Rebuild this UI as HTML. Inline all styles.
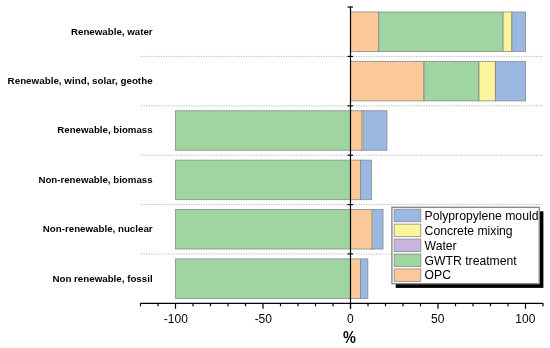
<!DOCTYPE html>
<html><head><meta charset="utf-8"><title>chart</title>
<style>
html,body{margin:0;padding:0;background:#fff;}
svg{display:block;font-family:"Liberation Sans",Arial,sans-serif;}
.cat{font-weight:bold;font-size:9.75px;fill:#000;}
.tk{font-size:12px;fill:#000;}
.lg{font-size:12.2px;fill:#000;}
</style></head><body>
<svg width="550" height="348" viewBox="0 0 550 348">
<rect width="550" height="348" fill="#fff"/>
<line x1="141" y1="56.43" x2="542.5" y2="56.43" stroke="#999" stroke-width="0.7" stroke-dasharray="1.2 1.3"/>
<line x1="141" y1="105.82" x2="542.5" y2="105.82" stroke="#999" stroke-width="0.7" stroke-dasharray="1.2 1.3"/>
<line x1="141" y1="155.20" x2="542.5" y2="155.20" stroke="#999" stroke-width="0.7" stroke-dasharray="1.2 1.3"/>
<line x1="141" y1="204.58" x2="542.5" y2="204.58" stroke="#999" stroke-width="0.7" stroke-dasharray="1.2 1.3"/>
<line x1="141" y1="253.97" x2="542.5" y2="253.97" stroke="#999" stroke-width="0.7" stroke-dasharray="1.2 1.3"/>
<rect x="350.50" y="11.99" width="28.18" height="39.51" fill="#fbc99a" stroke="#858585" stroke-opacity="0.85" stroke-width="0.9"/>
<rect x="378.68" y="11.99" width="124.43" height="39.51" fill="#a0d4a0" stroke="#858585" stroke-opacity="0.85" stroke-width="0.9"/>
<rect x="503.10" y="11.99" width="8.75" height="39.51" fill="#faf59c" stroke="#858585" stroke-opacity="0.85" stroke-width="0.9"/>
<rect x="511.85" y="11.99" width="13.65" height="39.51" fill="#9bb8e3" stroke="#858585" stroke-opacity="0.85" stroke-width="0.9"/>
<rect x="350.50" y="61.37" width="73.50" height="39.51" fill="#fbc99a" stroke="#858585" stroke-opacity="0.85" stroke-width="0.9"/>
<rect x="424.00" y="61.37" width="54.95" height="39.51" fill="#a0d4a0" stroke="#858585" stroke-opacity="0.85" stroke-width="0.9"/>
<rect x="478.95" y="61.37" width="16.45" height="39.51" fill="#faf59c" stroke="#858585" stroke-opacity="0.85" stroke-width="0.9"/>
<rect x="495.40" y="61.37" width="30.10" height="39.51" fill="#9bb8e3" stroke="#858585" stroke-opacity="0.85" stroke-width="0.9"/>
<rect x="175.50" y="110.75" width="175.00" height="39.51" fill="#a0d4a0" stroke="#858585" stroke-opacity="0.85" stroke-width="0.9"/>
<rect x="350.50" y="110.75" width="11.29" height="39.51" fill="#fbc99a" stroke="#858585" stroke-opacity="0.85" stroke-width="0.9"/>
<rect x="363.19" y="110.75" width="23.71" height="39.51" fill="#9bb8e3" stroke="#858585" stroke-opacity="0.85" stroke-width="0.9"/>
<rect x="361.49" y="110.75" width="2.00" height="39.51" fill="#b5b68c"/>
<line x1="360.89" y1="110.75" x2="364.09" y2="110.75" stroke="#858585" stroke-opacity="0.85" stroke-width="0.9"/>
<line x1="360.89" y1="150.26" x2="364.09" y2="150.26" stroke="#858585" stroke-opacity="0.85" stroke-width="0.9"/>
<rect x="175.50" y="160.14" width="175.00" height="39.51" fill="#a0d4a0" stroke="#858585" stroke-opacity="0.85" stroke-width="0.9"/>
<rect x="350.50" y="160.14" width="9.98" height="39.51" fill="#fbc99a" stroke="#858585" stroke-opacity="0.85" stroke-width="0.9"/>
<rect x="360.48" y="160.14" width="11.02" height="39.51" fill="#9bb8e3" stroke="#858585" stroke-opacity="0.85" stroke-width="0.9"/>
<rect x="175.50" y="209.52" width="175.00" height="39.51" fill="#a0d4a0" stroke="#858585" stroke-opacity="0.85" stroke-width="0.9"/>
<rect x="350.50" y="209.52" width="21.00" height="39.51" fill="#fbc99a" stroke="#858585" stroke-opacity="0.85" stroke-width="0.9"/>
<rect x="372.55" y="209.52" width="10.50" height="39.51" fill="#9bb8e3" stroke="#858585" stroke-opacity="0.85" stroke-width="0.9"/>
<rect x="371.20" y="209.52" width="1.65" height="39.51" fill="#b5b68c"/>
<line x1="370.60" y1="209.52" x2="373.45" y2="209.52" stroke="#858585" stroke-opacity="0.85" stroke-width="0.9"/>
<line x1="370.60" y1="249.03" x2="373.45" y2="249.03" stroke="#858585" stroke-opacity="0.85" stroke-width="0.9"/>
<rect x="175.50" y="258.91" width="175.00" height="39.51" fill="#a0d4a0" stroke="#858585" stroke-opacity="0.85" stroke-width="0.9"/>
<rect x="350.50" y="258.91" width="9.98" height="39.51" fill="#fbc99a" stroke="#858585" stroke-opacity="0.85" stroke-width="0.9"/>
<rect x="360.48" y="258.91" width="7.35" height="39.51" fill="#9bb8e3" stroke="#858585" stroke-opacity="0.85" stroke-width="0.9"/>
<line x1="350.5" y1="6.50" x2="350.5" y2="308.85" stroke="#000" stroke-width="1.2"/>
<line x1="140.3" y1="303.35" x2="543.1" y2="303.35" stroke="#000" stroke-width="1.3"/>
<line x1="347.5" y1="7.05" x2="353.0" y2="7.05" stroke="#000" stroke-width="1.15"/>
<line x1="347.5" y1="56.43" x2="353.0" y2="56.43" stroke="#000" stroke-width="1.15"/>
<line x1="347.5" y1="105.82" x2="353.0" y2="105.82" stroke="#000" stroke-width="1.15"/>
<line x1="347.5" y1="155.20" x2="353.0" y2="155.20" stroke="#000" stroke-width="1.15"/>
<line x1="347.5" y1="204.58" x2="353.0" y2="204.58" stroke="#000" stroke-width="1.15"/>
<line x1="347.5" y1="253.97" x2="353.0" y2="253.97" stroke="#000" stroke-width="1.15"/>
<line x1="140.50" y1="303.35" x2="140.50" y2="306.25" stroke="#000" stroke-width="1.2"/>
<line x1="158.00" y1="303.35" x2="158.00" y2="306.25" stroke="#000" stroke-width="1.2"/>
<line x1="175.50" y1="303.35" x2="175.50" y2="308.75" stroke="#000" stroke-width="1.2"/>
<line x1="193.00" y1="303.35" x2="193.00" y2="306.25" stroke="#000" stroke-width="1.2"/>
<line x1="210.50" y1="303.35" x2="210.50" y2="306.25" stroke="#000" stroke-width="1.2"/>
<line x1="228.00" y1="303.35" x2="228.00" y2="306.25" stroke="#000" stroke-width="1.2"/>
<line x1="245.50" y1="303.35" x2="245.50" y2="306.25" stroke="#000" stroke-width="1.2"/>
<line x1="263.00" y1="303.35" x2="263.00" y2="308.75" stroke="#000" stroke-width="1.2"/>
<line x1="280.50" y1="303.35" x2="280.50" y2="306.25" stroke="#000" stroke-width="1.2"/>
<line x1="298.00" y1="303.35" x2="298.00" y2="306.25" stroke="#000" stroke-width="1.2"/>
<line x1="315.50" y1="303.35" x2="315.50" y2="306.25" stroke="#000" stroke-width="1.2"/>
<line x1="333.00" y1="303.35" x2="333.00" y2="306.25" stroke="#000" stroke-width="1.2"/>
<line x1="350.50" y1="303.35" x2="350.50" y2="308.75" stroke="#000" stroke-width="1.2"/>
<line x1="368.00" y1="303.35" x2="368.00" y2="306.25" stroke="#000" stroke-width="1.2"/>
<line x1="385.50" y1="303.35" x2="385.50" y2="306.25" stroke="#000" stroke-width="1.2"/>
<line x1="403.00" y1="303.35" x2="403.00" y2="306.25" stroke="#000" stroke-width="1.2"/>
<line x1="420.50" y1="303.35" x2="420.50" y2="306.25" stroke="#000" stroke-width="1.2"/>
<line x1="438.00" y1="303.35" x2="438.00" y2="308.75" stroke="#000" stroke-width="1.2"/>
<line x1="455.50" y1="303.35" x2="455.50" y2="306.25" stroke="#000" stroke-width="1.2"/>
<line x1="473.00" y1="303.35" x2="473.00" y2="306.25" stroke="#000" stroke-width="1.2"/>
<line x1="490.50" y1="303.35" x2="490.50" y2="306.25" stroke="#000" stroke-width="1.2"/>
<line x1="508.00" y1="303.35" x2="508.00" y2="306.25" stroke="#000" stroke-width="1.2"/>
<line x1="525.50" y1="303.35" x2="525.50" y2="308.75" stroke="#000" stroke-width="1.2"/>
<line x1="543.00" y1="303.35" x2="543.00" y2="306.25" stroke="#000" stroke-width="1.2"/>
<text class="tk" x="175.80" y="322.7" text-anchor="middle">-100</text>
<text class="tk" x="263.30" y="322.7" text-anchor="middle">-50</text>
<text class="tk" x="350.30" y="322.7" text-anchor="middle">0</text>
<text class="tk" x="437.80" y="322.7" text-anchor="middle">50</text>
<text class="tk" x="525.30" y="322.7" text-anchor="middle">100</text>
<text transform="translate(349.4,342.6) scale(0.88,1)" text-anchor="middle" font-weight="bold" font-size="16.4">%</text>
<text class="cat" x="152.6" y="34.60" text-anchor="end" textLength="81.6" lengthAdjust="spacingAndGlyphs">Renewable, water</text>
<text class="cat" x="152.6" y="83.98" text-anchor="end" textLength="145.0" lengthAdjust="spacingAndGlyphs">Renewable, wind, solar, geothe</text>
<text class="cat" x="152.6" y="133.37" text-anchor="end" textLength="95.3" lengthAdjust="spacingAndGlyphs">Renewable, biomass</text>
<text class="cat" x="152.6" y="182.75" text-anchor="end" textLength="114.2" lengthAdjust="spacingAndGlyphs">Non-renewable, biomass</text>
<text class="cat" x="152.6" y="232.13" text-anchor="end" textLength="109.8" lengthAdjust="spacingAndGlyphs">Non-renewable, nuclear</text>
<text class="cat" x="152.6" y="281.52" text-anchor="end" textLength="100.2" lengthAdjust="spacingAndGlyphs">Non renewable, fossil</text>
<rect x="395.7" y="211.3" width="147.7" height="76.6" fill="#000"/>
<rect x="391.9" y="207.3" width="147.4" height="76.4" fill="#fff" stroke="#8a8a8a" stroke-width="1.4"/>
<rect x="394.2" y="209.20" width="26.6" height="12.5" fill="#9bb8e3" stroke="#858585" stroke-opacity="0.85" stroke-width="0.9"/>
<text class="lg" x="424.6" y="219.80">Polypropylene mould</text>
<rect x="394.2" y="224.13" width="26.6" height="12.5" fill="#faf59c" stroke="#858585" stroke-opacity="0.85" stroke-width="0.9"/>
<text class="lg" x="424.6" y="234.72">Concrete mixing</text>
<rect x="394.2" y="239.06" width="26.6" height="12.5" fill="#c6b6df" stroke="#858585" stroke-opacity="0.85" stroke-width="0.9"/>
<text class="lg" x="424.6" y="249.64">Water</text>
<rect x="394.2" y="253.99" width="26.6" height="12.5" fill="#a0d4a0" stroke="#858585" stroke-opacity="0.85" stroke-width="0.9"/>
<text class="lg" x="424.6" y="264.56">GWTR treatment</text>
<rect x="394.2" y="268.92" width="26.6" height="12.5" fill="#fbc99a" stroke="#858585" stroke-opacity="0.85" stroke-width="0.9"/>
<text class="lg" x="424.6" y="279.48">OPC</text>
</svg></body></html>
